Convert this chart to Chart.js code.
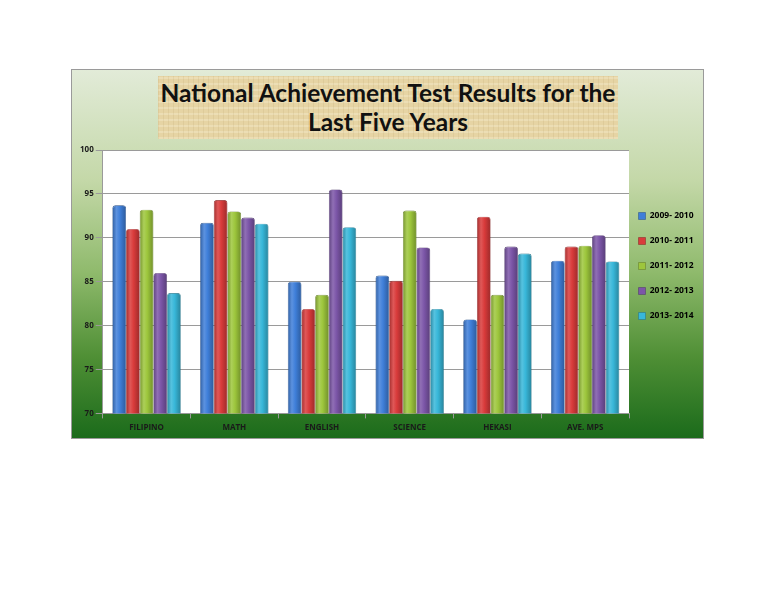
<!DOCTYPE html>
<html>
<head>
<meta charset="utf-8">
<script src="https://cdn.jsdelivr.net/npm/chart.js@4.4.1/dist/chart.umd.min.js"></script>
<style>
  body { margin: 0; background: #fff; }
  #box {
    position: absolute; left: 71px; top: 69px; width: 631px; height: 368px;
    border: 1px solid #9a9a9a;
    background: linear-gradient(to bottom, #e2ebd8 0%, #c4d8a8 30%, #8fba6c 55%, #4f8f35 78%, #1b6b1b 100%);
  }
  #title {
    position: absolute; left: 86px; top: 6px; width: 460px; height: 63px;
    background-color: #e6d4a4;
    background-image:
      repeating-linear-gradient(90deg, rgba(150,120,60,0.10) 0 1px, transparent 1px 5px),
      repeating-linear-gradient(0deg, rgba(255,250,230,0.25) 0 2px, transparent 2px 6px);
    font-family: "Lato", sans-serif; font-weight: bold; font-size: 24.5px;
    line-height: 29px; text-align: center; color: #111; padding-top: 2px; box-sizing: border-box;
  }
  canvas { position: absolute; left: 0; top: 0; }
</style>
</head>
<body>
<div id="box">
  <canvas id="nat" width="631" height="368"></canvas>
  <div id="title">National Achievement Test Results for the<br>Last Five Years</div>
</div>
<script>
const subjects = ['FILIPINO', 'MATH', 'ENGLISH', 'SCIENCE', 'HEKASI', 'AVE. MPS']
const years = ['2009- 2010', '2010- 2011', '2011- 2012', '2012- 2013', '2013- 2014']

const sy2009 = [93.7, 91.7, 85.0, 85.7, 80.7, 87.4]
const sy2010 = [91.0, 94.3, 81.9, 85.1, 92.4, 89.0]
const sy2011 = [93.2, 93.0, 83.5, 93.1, 83.5, 89.1]
const sy2012 = [86.0, 92.3, 95.5, 88.9, 89.0, 90.3]
const sy2013 = [83.7, 91.6, 91.2, 81.9, 88.2, 87.3]

const yTicks = [70, 75, 80, 85, 90, 95, 100]

const barColors = ['#3f7fd9', '#d93b3b', '#9dc63c', '#7c56a8', '#38b7d9']

function shade(hex, f) {
    const n = parseInt(hex.slice(1), 16)
    let r = n >> 16, g = (n >> 8) & 255, b = n & 255
    if (f < 1) { r *= f; g *= f; b *= f }
    else { r += (255 - r) * (f - 1); g += (255 - g) * (f - 1); b += (255 - b) * (f - 1) }
    return `rgb(${Math.round(r)},${Math.round(g)},${Math.round(b)})`
}

// Cylinder-like shading across each bar (options are per element because backgroundColor is scriptable)
const barShading = {
    id: 'barShading',
    beforeDatasetsDraw(chart) {
        const ctx = chart.ctx
        chart.data.datasets.forEach((ds, i) => {
            const meta = chart.getDatasetMeta(i)
            meta.data.forEach(el => {
                const left = el.x - el.width / 2
                const g = ctx.createLinearGradient(left, 0, left + el.width, 0)
                g.addColorStop(0, shade(ds.baseColor, 0.75))
                g.addColorStop(0.3, shade(ds.baseColor, 1.15))
                g.addColorStop(0.55, ds.baseColor)
                g.addColorStop(1, shade(ds.baseColor, 0.72))
                el.options.backgroundColor = g
            })
        })
    }
}

const whitePlot = {
    id: 'whitePlot',
    beforeDraw(chart) {
        const a = chart.chartArea
        chart.ctx.save()
        chart.ctx.fillStyle = '#ffffff'
        chart.ctx.fillRect(a.left, a.top, a.right - a.left, a.bottom - a.top)
        chart.ctx.restore()
    }
}

// The legend sits a bit above the middle of the plot and close to it
const legendNudge = {
    id: 'legendNudge',
    afterLayout(chart) {
        chart.legend.top -= 28
        chart.legend.bottom -= 28
        chart.legend.left -= 7
        chart.legend.right -= 7
    }
}

const series = [sy2009, sy2010, sy2011, sy2012, sy2013]

new Chart(document.getElementById('nat'), {
    type: 'bar',
    data: {
        labels: subjects,
        datasets: series.map((values, i) => ({
            label: years[i],
            data: values,
            baseColor: barColors[i],
            backgroundColor: () => barColors[i],
            borderColor: shade(barColors[i], 0.6),
            borderWidth: 0.6,
            borderRadius: { topLeft: 3, topRight: 3 },
            borderSkipped: 'bottom',
            barPercentage: 1,
            categoryPercentage: 0.78
        }))
    },
    options: {
        responsive: false,
        animation: false,
        devicePixelRatio: 1,
        layout: { padding: { top: 80, left: 6, right: 0, bottom: 0 } },
        scales: {
            x: {
                offset: true,
                grid: { drawOnChartArea: false, color: '#999', tickLength: 5, offset: true },
                border: { color: '#999' },
                ticks: { color: '#1a1a1a', maxRotation: 0, font: { family: 'Open Sans', size: 8, weight: 'bold' }, padding: 5 }
            },
            y: {
                min: 70,
                max: 100,
                afterBuildTicks(axis) { axis.ticks = yTicks.map(v => ({ value: v })) },
                grid: { color: '#9a9a9a', tickLength: 7 },
                border: { color: '#9a9a9a' },
                ticks: { color: '#1a1a1a', font: { family: 'Open Sans', size: 8, weight: 'bold' }, padding: 2 }
            }
        },
        plugins: {
            legend: {
                position: 'right',
                maxWidth: 74,
                labels: {
                    boxWidth: 7,
                    boxHeight: 7,
                    padding: 16.5,
                    color: '#111',
                    font: { family: 'Open Sans', size: 8.5, weight: 'bold' },
                    generateLabels(chart) {
                        return chart.data.datasets.map((ds, i) => ({
                            text: ds.label,
                            fillStyle: ds.baseColor,
                            strokeStyle: shade(ds.baseColor, 0.6),
                            lineWidth: 0.5,
                            datasetIndex: i
                        }))
                    }
                }
            },
            title: { display: false },
            tooltip: { enabled: false }
        }
    },
    plugins: [whitePlot, barShading, legendNudge]
})
</script>
</body>
</html>
